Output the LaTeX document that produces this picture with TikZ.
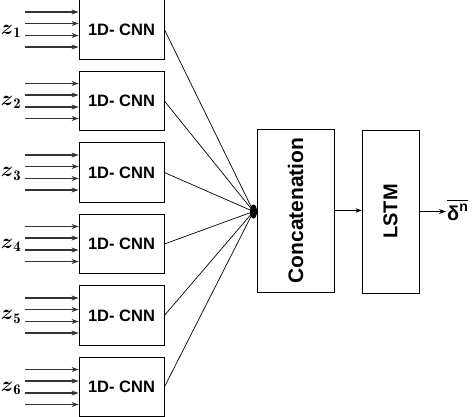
\documentclass[tikz,border=0pt]{standalone}
\usepackage{amsmath,amsfonts}
\usepackage{fontspec}
\setsansfont{Liberation Sans}
\usepackage{tikz}
\usetikzlibrary{positioning, arrows.meta, shapes.geometric}

\tikzset{
    cnnbox/.style = {draw, line width=0.8pt, minimum width=85pt, minimum height=59.5pt, inner sep=0pt,
                     font=\sffamily\bfseries\fontsize{16.5}{18}\selectfont},
    tallbox/.style = {draw, line width=0.8pt, minimum height=163pt, inner sep=0pt},
    inarrow/.style = {line width=1.2pt, draw=black!80, -{Stealth[length=7pt,width=5pt]}},
    link/.style = {line width=0.7pt},
    zlabel/.style = {font=\fontsize{21}{24}\selectfont}
}

\begin{document}
\begin{tikzpicture}[x=1pt, y=-1pt]
    \useasboundingbox (0,0) rectangle (474,416);

    % CNN branches
    \node[cnnbox] (c1) at (121.5, 29.5) {1D- CNN};
    \node[cnnbox] (c2) at (121.5, 101) {1D- CNN};
    \node[cnnbox] (c3) at (121.5, 172.5) {1D- CNN};
    \node[cnnbox] (c4) at (121.5, 244) {1D- CNN};
    \node[cnnbox] (c5) at (121.5, 315.5) {1D- CNN};
    \node[cnnbox] (c6) at (121.5, 387) {1D- CNN};

    \node[zlabel] (z1) at (11, 31) {$\boldsymbol{z}_{\mathbf{1}}$};
    \node[zlabel] (z2) at (11, 102.5) {$\boldsymbol{z}_{\mathbf{2}}$};
    \node[zlabel] (z3) at (11, 174) {$\boldsymbol{z}_{\mathbf{3}}$};
    \node[zlabel] (z4) at (11, 245.5) {$\boldsymbol{z}_{\mathbf{4}}$};
    \node[zlabel] (z5) at (11, 317) {$\boldsymbol{z}_{\mathbf{5}}$};
    \node[zlabel] (z6) at (11, 388.5) {$\boldsymbol{z}_{\mathbf{6}}$};

    % Merge and sequence part
    \node[tallbox, minimum width=77pt] (concat) at (295.5, 210.5)
        {\rotatebox{90}{\sffamily\bfseries\fontsize{21}{24}\selectfont Concatenation}};
    \node[tallbox, minimum width=57pt] (lstm) at (390.5, 211.5)
        {\rotatebox{90}{\sffamily\bfseries\fontsize{20}{24}\selectfont LSTM}};
    \node[ellipse, fill=black, minimum width=7pt, minimum height=14pt, inner sep=0pt] (join) at (253.5, 211.5) {};
    \node[anchor=west, inner sep=1pt, font=\fontsize{20}{22}\selectfont] (out) at (446, 210)
        {$\overline{\textsf{\textbf{δ}}^{\textsf{\textbf{n}}}}$};

    \foreach \i in {1,...,6} {
        \draw[inarrow] ([xshift=-54pt,yshift=17.5pt]c\i.west) -- ([yshift=17.5pt]c\i.west);
        \draw[inarrow] ([xshift=-54pt,yshift=6pt]c\i.west) -- ([yshift=6pt]c\i.west);
        \draw[inarrow] ([xshift=-54pt,yshift=-6pt]c\i.west) -- ([yshift=-6pt]c\i.west);
        \draw[inarrow] ([xshift=-54pt,yshift=-17.5pt]c\i.west) -- ([yshift=-17.5pt]c\i.west);
        \draw[link] (c\i.east) -- (join.center);
    }

    \draw[link, -{Stealth[length=6pt,width=4.5pt]}] (concat.east) -- (lstm.west |- concat.east);
    \draw[line width=1pt, -{Stealth[length=7pt,width=5pt]}] (lstm.east) -- (lstm.east -| out.west);

\end{tikzpicture}
\end{document}
